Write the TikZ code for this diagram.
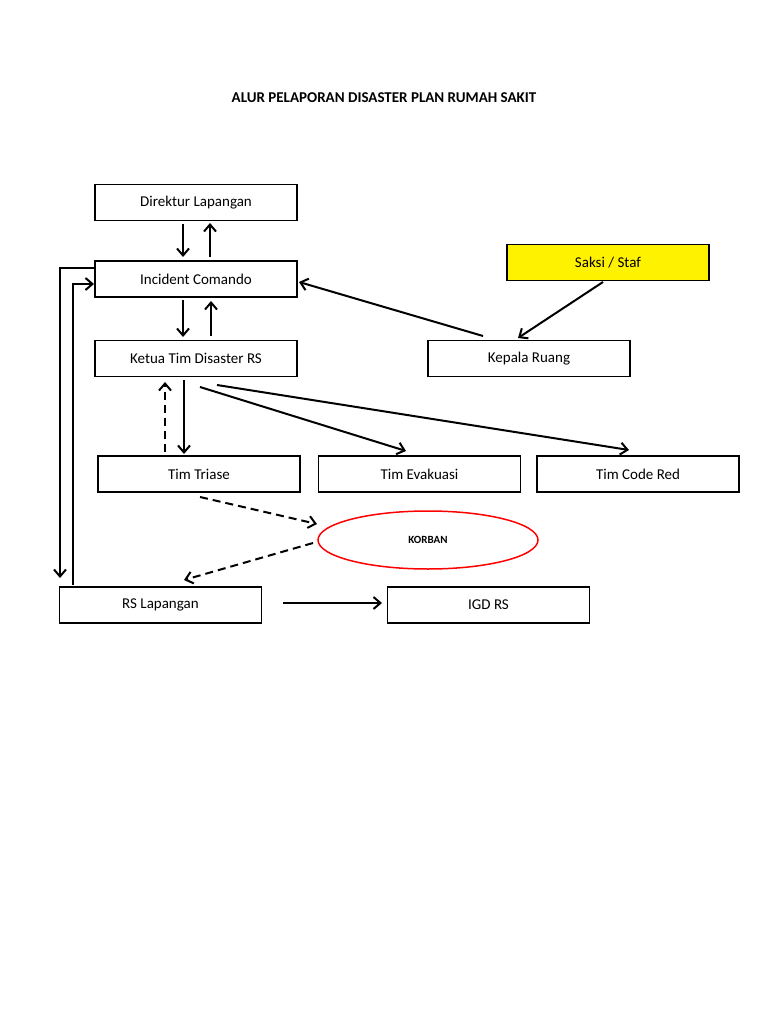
\documentclass[tikz,border=0pt]{standalone}
\usepackage{fontspec}
\setmainfont{Carlito}
\usetikzlibrary{arrows.meta,shapes.geometric}
\begin{document}
\begin{tikzpicture}[x=1pt,y=-1pt,
 box/.style={draw,line width=1.2pt,minimum width=202pt,minimum height=36pt,inner sep=0pt,font=\fontsize{15}{18}\selectfont},
 ar/.style={line width=2pt,-{Straight Barb[length=7pt,width=12pt]}},
 da/.style={ar,dash pattern=on 8pt off 5pt}]
\useasboundingbox (0,0) rectangle (768,1024);
\node[font=\bfseries\fontsize{15}{18}\selectfont] (title) at (384,98) {ALUR PELAPORAN DISASTER PLAN RUMAH SAKIT};
\node[box] (dir) at (196,202.5) {Direktur Lapangan};
\node[box] (inc) at (196,279) {Incident Comando};
\node[box] (ket) at (196,358.5) {Ketua Tim Disaster RS};
\node[box,fill=yellow] (sak) at (608,262.5) {Saksi / Staf};
\node[box] (kep) at (529,358.5) {Kepala Ruang};
\node[box] (tri) at (199,474) {Tim Triase};
\node[box] (eva) at (419.5,474) {Tim Evakuasi};
\node[box] (cod) at (638,474) {Tim Code Red};
\node[draw=red,line width=1.5pt,ellipse,minimum width=220pt,minimum height=58pt,font=\bfseries\fontsize{11}{13}\selectfont] (kor) at (428,540) {KORBAN};
\node[box] (rsl) at (160.5,605) {RS Lapangan};
\node[box] (igd) at (488.5,605) {IGD RS};
\coordinate (a1) at (183,224); \coordinate (a2) at (183,257);
\draw[ar] (a1) -- (a2);
\coordinate (b1) at (210,257); \coordinate (b2) at (210,223);
\draw[ar] (b1) -- (b2);
\coordinate (c1) at (183,300); \coordinate (c2) at (183,337);
\draw[ar] (c1) -- (c2);
\coordinate (d1) at (211,336); \coordinate (d2) at (211,301);
\draw[ar] (d1) -- (d2);
\coordinate (e1) at (603,282); \coordinate (e2) at (518,338);
\draw[ar] (e1) -- (e2);
\coordinate (f1) at (483,336); \coordinate (f2) at (299,282);
\draw[ar] (f1) -- (f2);
\coordinate (g1) at (184,380); \coordinate (g2) at (184,454);
\draw[ar] (g1) -- (g2);
\coordinate (h1) at (165,452); \coordinate (h2) at (165,382);
\draw[da] (h1) -- (h2);
\coordinate (i1) at (200,387); \coordinate (i2) at (406,451);
\draw[ar] (i1) -- (i2);
\coordinate (j1) at (217,385); \coordinate (j2) at (629,450);
\draw[ar] (j1) -- (j2);
\coordinate (k1) at (200,497); \coordinate (k2) at (317,524);
\draw[da] (k1) -- (k2);
\coordinate (l1) at (313,543); \coordinate (l2) at (184,580);
\draw[da] (l1) -- (l2);
\coordinate (m1) at (283,603); \coordinate (m2) at (382,603);
\draw[ar] (m1) -- (m2);
\coordinate (n1) at (95,268); \coordinate (n2) at (60,578);
\draw[ar] (n1) -- (60,268) -- (n2);
\coordinate (o1) at (73,585); \coordinate (o2) at (94,284);
\draw[ar] (o1) -- (73,284) -- (o2);
\end{tikzpicture}
\end{document}
